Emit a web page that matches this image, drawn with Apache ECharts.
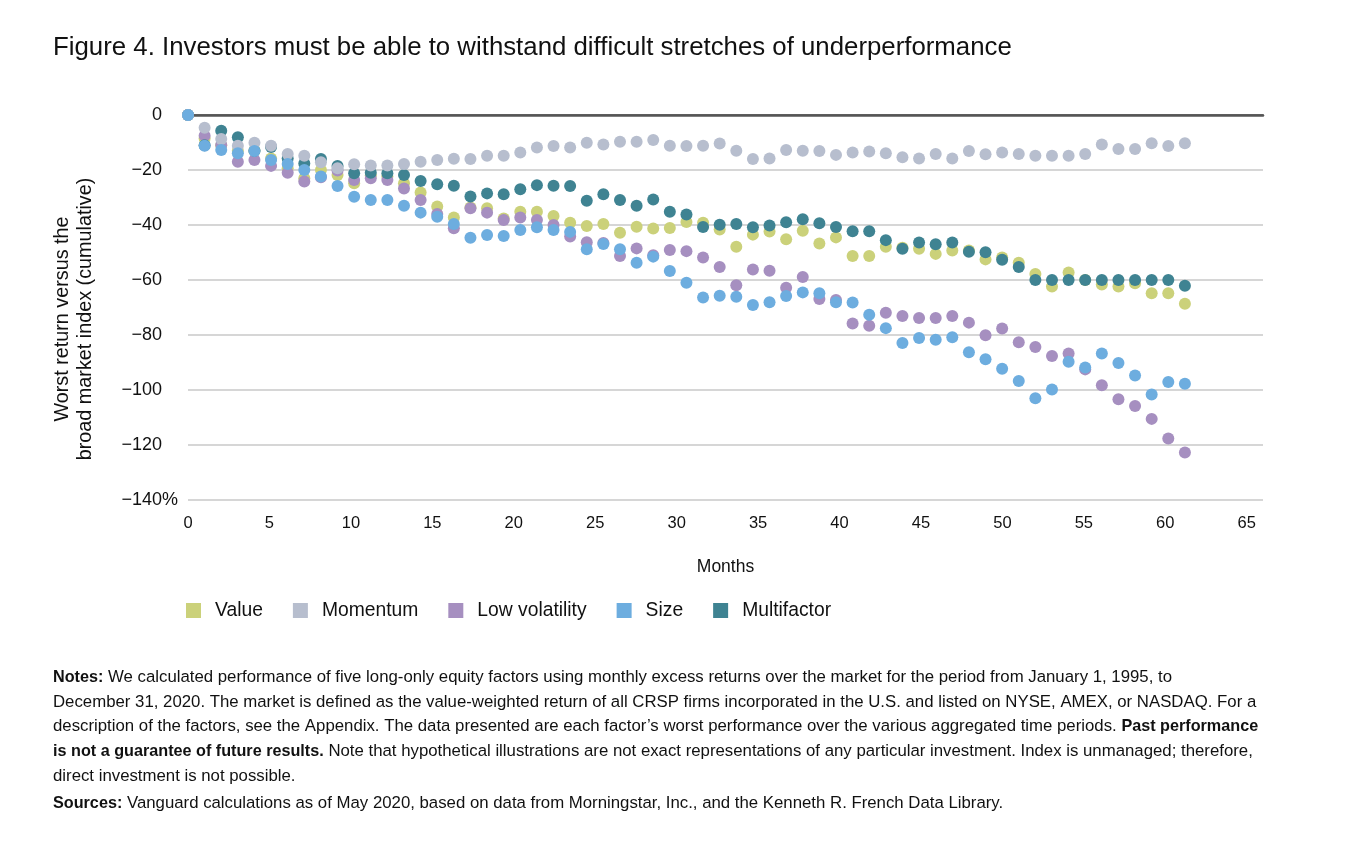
<!DOCTYPE html>
<html>
<head>
<meta charset="utf-8">
<script src="https://cdn.jsdelivr.net/npm/echarts@6/dist/echarts.min.js"></script>
<style>
  html, body { margin: 0; padding: 0; background: #fff; }
  #chart { width: 1368px; height: 868px; }
</style>
</head>
<body>
<div id="chart"></div>
<script>
// ---- Data ----
const months = [0,1,2,3,4,5,6,7,8,9,10,11,12,13,14,15,16,17,18,19,20,21,22,23,24,25,26,27,28,29,30,
  31,32,33,34,35,36,37,38,39,40,41,42,43,44,45,46,47,48,49,50,51,52,53,54,55,56,57,58,59,60];

const valueSeries = [0,-8.5,-11,-13,-13,-15.8,-19.4,-23,-20,-21.8,-24.8,-22,-22.4,-24.8,-28.2,-33.3,
  -37.3,-33.6,-33.9,-37.6,-35.2,-35.2,-36.7,-39.2,-40.4,-39.6,-42.8,-40.6,-41.3,-41.1,-38.9,
  -39.2,-41.6,-47.9,-43.5,-42.4,-45.2,-42.1,-46.7,-44.5,-51.3,-51.3,-47.9,-48.3,-48.6,-50.5,
  -49.3,-49.3,-52.5,-51.8,-53.7,-57.8,-62.4,-57.3,-60,-61.6,-62.4,-61.2,-64.8,-64.8,-68.6];

const momentumSeries = [0,-4.6,-8.7,-11.2,-10.1,-11.2,-14.2,-14.8,-17.2,-19.4,-17.9,-18.4,-18.4,-17.8,-17,-16.4,
  -15.9,-16,-14.8,-14.8,-13.6,-11.8,-11.3,-11.8,-10.1,-10.7,-9.7,-9.7,-9.1,-11.2,-11.3,
  -11.2,-10.4,-13,-16,-15.8,-12.7,-13,-13.1,-14.5,-13.6,-13.3,-13.9,-15.4,-15.8,-14.2,
  -15.8,-13.1,-14.3,-13.6,-14.2,-14.8,-14.8,-14.8,-14.2,-10.7,-12.4,-12.4,-10.3,-11.3,-10.3];

const lowVolSeries = [0,-7.5,-10.9,-17,-16.4,-18.5,-21,-24.2,-22.6,-20.2,-23.6,-23,-23.6,-26.7,-30.9,-36,
  -41.2,-33.9,-35.5,-38.2,-37.3,-38.2,-40,-44.2,-46.3,-46.5,-51.3,-48.5,-51,-49.1,-49.5,
  -51.8,-55.3,-61.9,-56.2,-56.6,-62.8,-58.9,-66.9,-67.3,-75.8,-76.6,-71.9,-73.1,-73.8,-73.8,
  -73.1,-75.5,-80.1,-77.6,-82.6,-84.4,-87.6,-86.7,-92.5,-98.3,-103.4,-105.8,-110.5,-117.6,-122.7];

const sizeSeries = [0,-11.2,-12.7,-13.9,-13.1,-16.4,-17.8,-20,-22.4,-25.8,-29.7,-30.9,-30.9,-33,-35.5,-37,
  -39.6,-44.6,-43.6,-44,-41.8,-40.8,-41.8,-42.5,-48.8,-46.9,-48.8,-53.7,-51.5,-56.7,-61,
  -66.4,-65.7,-66.1,-69.1,-68.1,-65.8,-64.5,-64.8,-68.1,-68.2,-72.6,-77.5,-82.9,-81.1,-81.7,
  -80.8,-86.3,-88.8,-92.3,-96.7,-103,-99.8,-89.7,-91.8,-86.7,-90.2,-94.7,-101.6,-97.1,-97.7];

const multiSeries = [0,-11,-5.7,-8.1,-13,-11.6,-15.8,-17.6,-16,-18.5,-21.2,-21,-21.2,-21.8,-24,-25.2,
  -25.7,-29.6,-28.5,-28.8,-27,-25.5,-25.7,-25.8,-31.2,-28.8,-30.9,-33,-30.7,-35.2,-36.2,
  -40.7,-39.9,-39.6,-40.8,-40.2,-39,-37.9,-39.4,-40.7,-42.3,-42.3,-45.5,-48.6,-46.4,-47,
  -46.4,-49.7,-49.9,-52.6,-55.3,-60,-60,-60,-60,-60,-60,-60,-60,-60,-62.1];

const legendNames = ['Value', 'Momentum', 'Low volatility', 'Size', 'Multifactor'];
const xTicks = [0,5,10,15,20,25,30,35,40,45,50,55,60,65];
const yTicks = [0,-20,-40,-60,-80,-100,-120,-140];

const titleText = 'Figure 4. Investors must be able to withstand difficult stretches of underperformance';
const yTitleText = 'Worst return versus the\nbroad market index (cumulative)';
const noteLines = [
  '{b|Notes:} We calculated performance of five long-only equity factors using monthly excess returns over the market for the period from January 1, 1995, to',
  'December 31, 2020. The market is defined as the value-weighted return of all CRSP firms incorporated in the U.S. and listed on NYSE, AMEX, or NASDAQ. For a',
  'description of the factors, see the Appendix. The data presented are each factor\u2019s worst performance over the various aggregated time periods. {b|Past performance}',
  '{b|is not a guarantee of future results.} Note that hypothetical illustrations are not exact representations of any particular investment. Index is unmanaged; therefore,',
  'direct investment is not possible.'
];
const sourceLine = '{b|Sources:} Vanguard calculations as of May 2020, based on data from Morningstar, Inc., and the Kenneth R. French Data Library.';

// ---- Styling ----
const colors = {
  'Value': '#CBD17A',
  'Momentum': '#B7BECE',
  'Low volatility': '#A68FC0',
  'Size': '#6DADDF',
  'Multifactor': '#3F8392'
};
const FONT = '"Liberation Sans", Arial, sans-serif';
const NOTE_SIZE = 16.8;
const NOTE_BOLD_SIZE = 16.2;

function pairs(vals) { return months.map((m, i) => [m, vals[i]]); }

const seriesData = {
  'Value': valueSeries,
  'Momentum': momentumSeries,
  'Low volatility': lowVolSeries,
  'Size': sizeSeries,
  'Multifactor': multiSeries
};
// drawing order (bottom -> top)
const drawOrder = ['Value', 'Low volatility', 'Multifactor', 'Momentum', 'Size'];

const chart = echarts.init(document.getElementById('chart'), null, { renderer: 'canvas' });

function noteText(t, top) {
  return {
    type: 'text',
    left: 53,
    top: top,
    style: {
      text: t,
      font: NOTE_SIZE + 'px ' + FONT,
      fill: '#111',
      rich: { b: { fontWeight: 'bold', fontSize: NOTE_BOLD_SIZE, fontFamily: FONT, fill: '#111' } }
    }
  };
}
const graphics = noteLines.map((t, i) => noteText(t, 669 + i * 24.6));
graphics.push(noteText(sourceLine, 795));
// rotated y-axis title
graphics.push({
  type: 'text',
  x: 74,
  y: 319,
  rotation: Math.PI / 2,
  style: {
    text: yTitleText,
    font: '19.8px ' + FONT,
    fill: '#111',
    align: 'center',
    verticalAlign: 'middle',
    lineHeight: 23
  }
});

chart.setOption({
  animation: false,
  backgroundColor: '#fff',
  title: {
    text: titleText,
    left: 53,
    top: 35,
    padding: 0,
    textStyle: { fontFamily: FONT, fontSize: 25.8, fontWeight: 'normal', color: '#111' }
  },
  legend: {
    data: legendNames,
    left: 186,
    top: 601,
    padding: 0,
    icon: 'rect',
    itemWidth: 15,
    itemHeight: 15,
    itemGap: 30,
    selectedMode: false,
    textStyle: { fontFamily: FONT, fontSize: 19.3, color: '#111', padding: [0, 0, 0, 9] }
  },
  grid: { left: 188, right: 105, top: 115, bottom: 368, containLabel: false },
  xAxis: [
    {
      type: 'value',
      min: 0,
      max: 66,
      interval: 5,
      position: 'bottom',
      name: 'Months',
      nameLocation: 'middle',
      nameGap: 58,
      nameTextStyle: { fontFamily: FONT, fontSize: 17.5, color: '#111' },
      axisLine: { show: true, lineStyle: { color: '#555', width: 1.5 } },
      axisTick: { show: false },
      splitLine: { show: false },
      axisLabel: {
        margin: 15,
        fontFamily: FONT,
        fontSize: 16.5,
        color: '#111',
        formatter: v => (xTicks.indexOf(v) >= 0 ? String(v) : '')
      }
    },
    {
      type: 'value',
      min: 0,
      max: 64.7,
      position: 'top',
      axisLine: { show: true, onZero: false, lineStyle: { color: '#555', width: 2.5 } },
      axisTick: { show: false },
      axisLabel: { show: false },
      splitLine: { show: false }
    }
  ],
  yAxis: {
    type: 'value',
    min: -140,
    max: 0,
    interval: 20,
    axisLine: { show: false },
    axisTick: { show: false },
    splitLine: { show: true, lineStyle: { color: '#C9C9C9', width: 1.5 } },
    axisLabel: {
      margin: 10,
      fontFamily: FONT,
      fontSize: 18,
      color: '#111',
      rich: { p: { width: 16, align: 'left', fontFamily: FONT, fontSize: 18, color: '#111' } },
      formatter: v => {
        if (yTicks.indexOf(v) < 0) return '';
        const s = v < 0 ? '\u2212' + Math.abs(v) : String(v);
        return s + '{p|' + (v === -140 ? '%' : '\u00a0') + '}';
      }
    }
  },
  series: drawOrder.map(name => ({
    name: name,
    type: 'scatter',
    xAxisIndex: 1,
    symbol: 'circle',
    symbolSize: 12,
    itemStyle: { color: colors[name], opacity: 1 },
    emphasis: { disabled: true },
    data: pairs(seriesData[name])
  })),
  graphic: graphics
});
</script>
</body>
</html>
